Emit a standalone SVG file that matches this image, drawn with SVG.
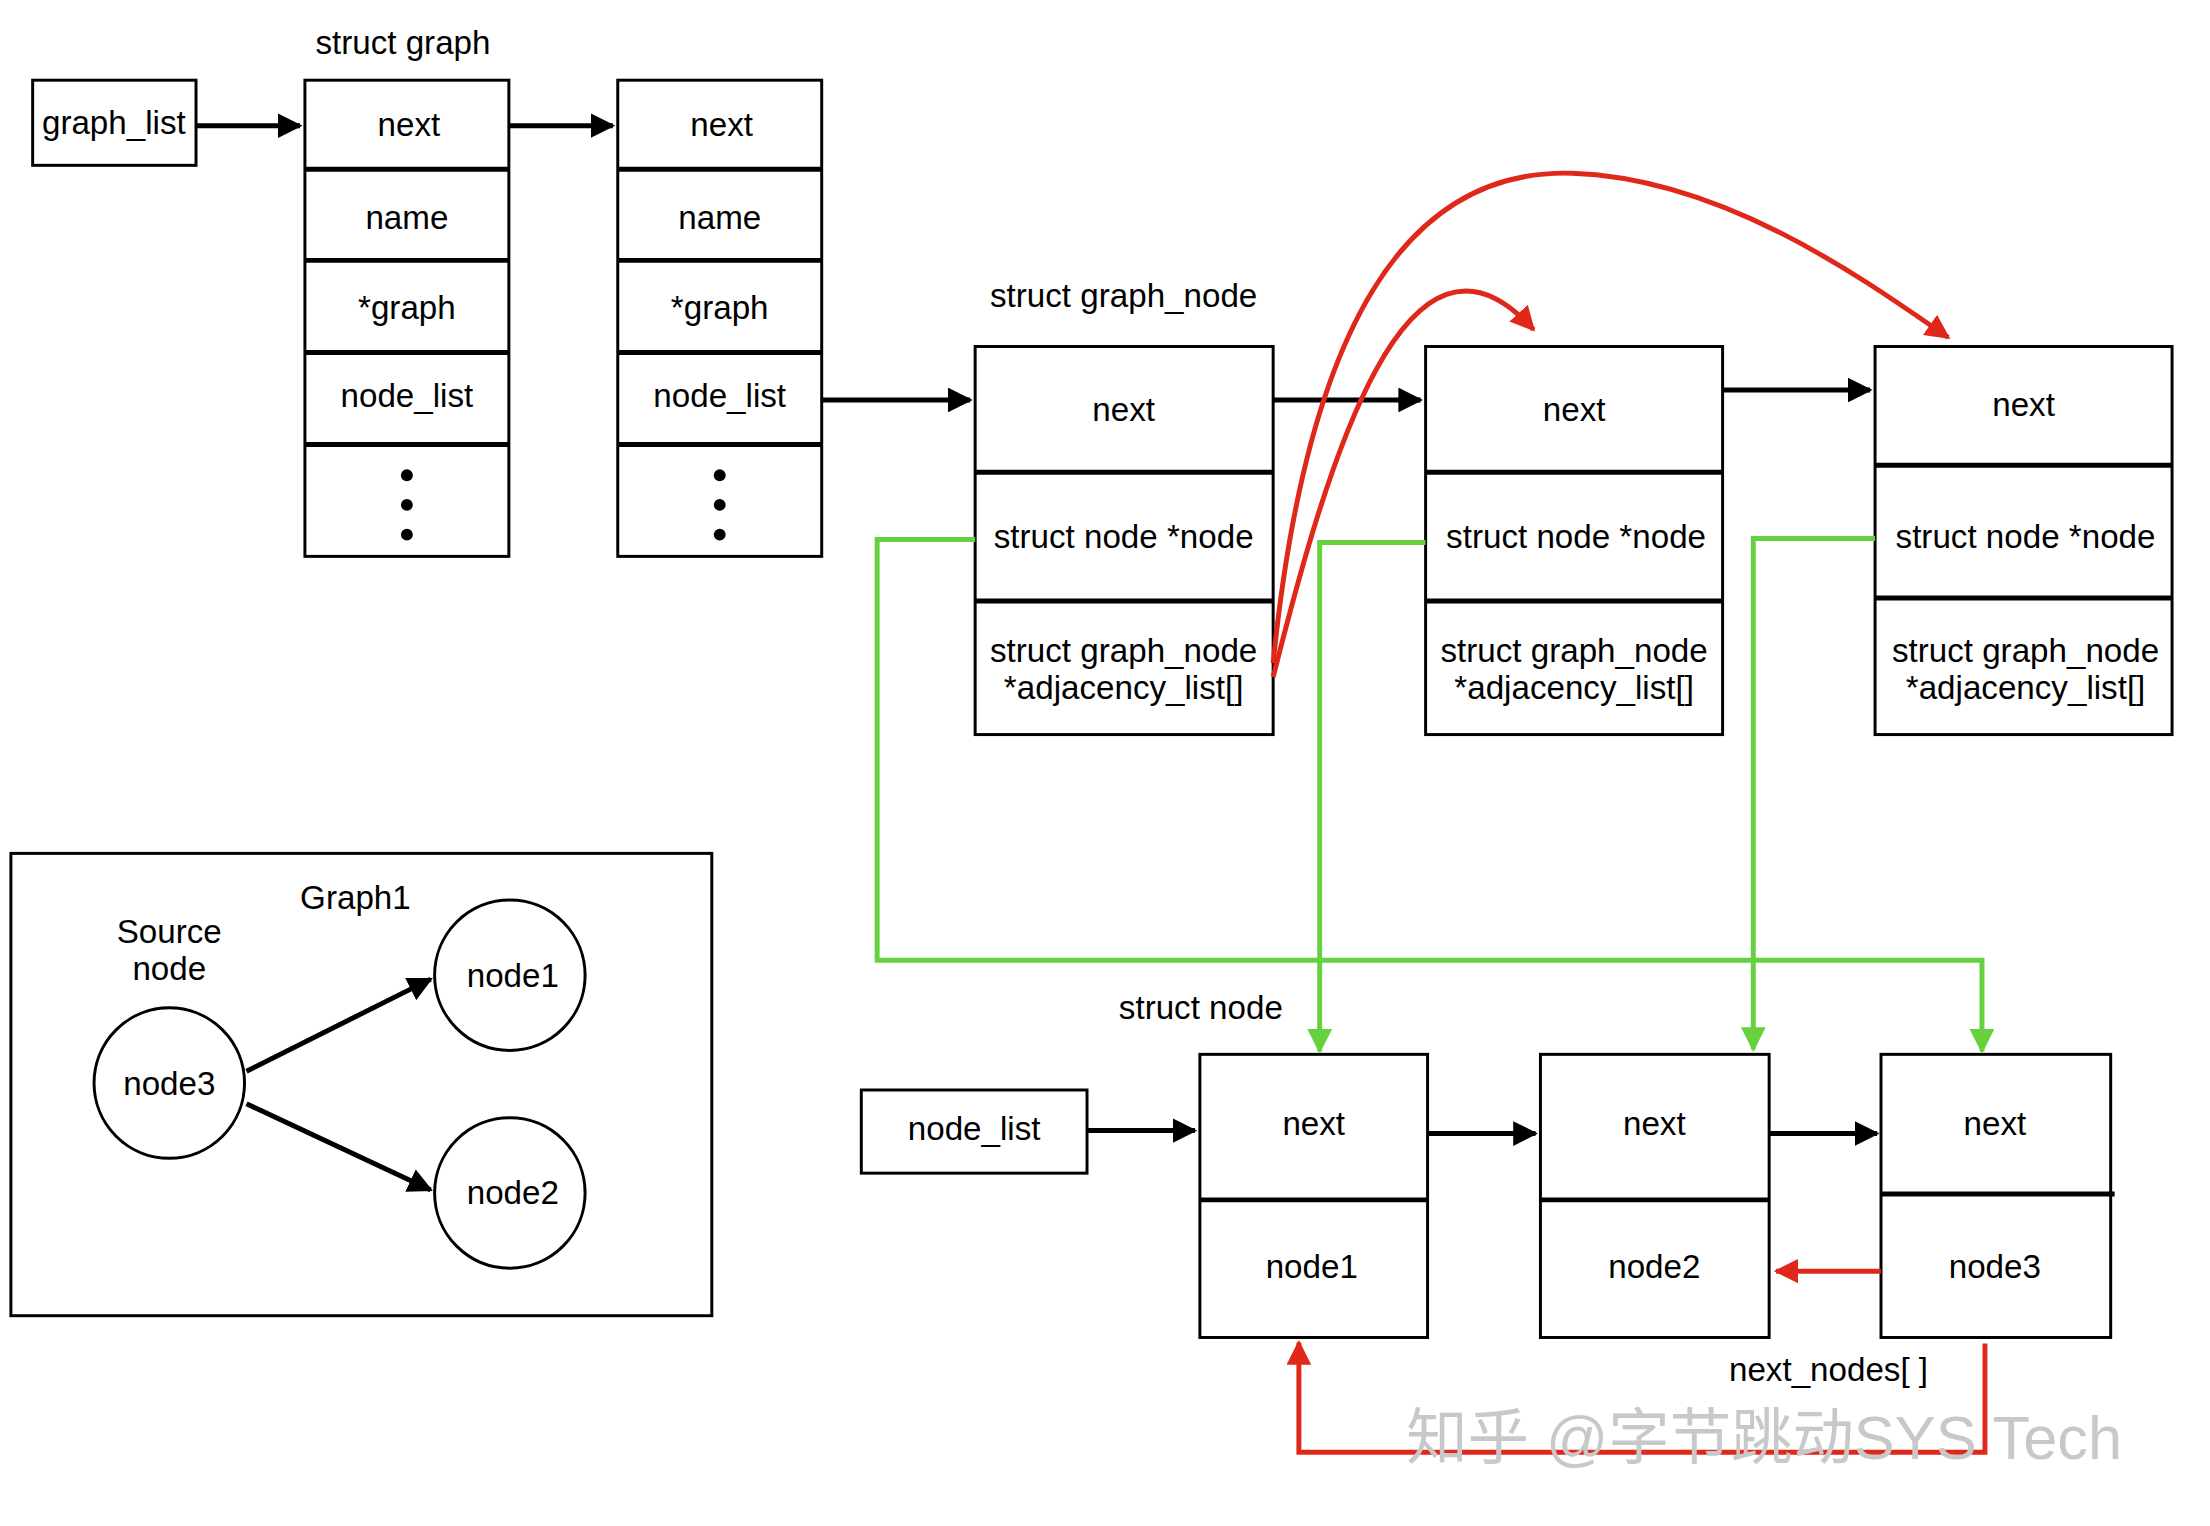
<svg xmlns="http://www.w3.org/2000/svg" width="2210" height="1526" viewBox="0 0 2210 1526">
<defs>
<style>
text{font-family:"Liberation Sans",Arial,sans-serif;font-size:33.5px;fill:#000;text-anchor:middle;dominant-baseline:central}
.b{fill:#fff;stroke:#000;stroke-width:3}
.d{stroke:#000;stroke-width:5}
.k{fill:none;stroke:#000;stroke-width:5}
.g{fill:none;stroke:#66d13f;stroke-width:5}
.r{fill:none;stroke:#e0281a;stroke-width:5}
</style>
<marker id="ak" viewBox="0 0 10 10" refX="9" refY="5" markerWidth="5" markerHeight="5" orient="auto"><path d="M0,0L10,5L0,10z" fill="#000"/></marker>
<marker id="ag" viewBox="0 0 10 10" refX="9" refY="5" markerWidth="5" markerHeight="5" orient="auto"><path d="M0,0L10,5L0,10z" fill="#66d13f"/></marker>
<marker id="ar" viewBox="0 0 10 10" refX="9" refY="5" markerWidth="5" markerHeight="5" orient="auto"><path d="M0,0L10,5L0,10z" fill="#e0281a"/></marker>
</defs>
<rect width="2210" height="1526" fill="#fff"/>
<g transform="scale(0.99)">
<text x="407" y="43">struct graph</text>
<text x="1135" y="298">struct graph_node</text>
<text x="1213" y="1018">struct node</text>
<text x="1847" y="1383">next_nodes[ ]</text>
<g id="graph_list"><rect class="b" x="33" y="81" width="165" height="86"/><text x="115" y="124">graph_list</text></g>
<g id="graph1_struct"><rect class="b" x="308" y="81" width="206" height="481"/>
<line class="d" x1="308" y1="171" x2="514" y2="171"/><line class="d" x1="308" y1="263" x2="514" y2="263"/><line class="d" x1="308" y1="356" x2="514" y2="356"/><line class="d" x1="308" y1="449" x2="514" y2="449"/>
<text x="413" y="126">next</text><text x="411" y="220">name</text><text x="411" y="311">*graph</text><text x="411" y="400">node_list</text>
<circle cx="411" cy="480" r="6"/><circle cx="411" cy="510" r="6"/><circle cx="411" cy="540" r="6"/></g>
<g id="graph2_struct"><rect class="b" x="624" y="81" width="206" height="481"/>
<line class="d" x1="624" y1="171" x2="830" y2="171"/><line class="d" x1="624" y1="263" x2="830" y2="263"/><line class="d" x1="624" y1="356" x2="830" y2="356"/><line class="d" x1="624" y1="449" x2="830" y2="449"/>
<text x="729" y="126">next</text><text x="727" y="220">name</text><text x="727" y="311">*graph</text><text x="727" y="400">node_list</text>
<circle cx="727" cy="480" r="6"/><circle cx="727" cy="510" r="6"/><circle cx="727" cy="540" r="6"/></g>
<g id="gn1"><rect class="b" x="985" y="350" width="301" height="392"/><line class="d" x1="985" y1="477" x2="1286" y2="477"/><line class="d" x1="985" y1="607" x2="1286" y2="607"/>
<text x="1135" y="414">next</text><text x="1135" y="542">struct node *node</text><text x="1135" y="657">struct graph_node</text><text x="1135" y="694">*adjacency_list[]</text></g>
<g id="gn2"><rect class="b" x="1440" y="350" width="300" height="392"/><line class="d" x1="1440" y1="477" x2="1740" y2="477"/><line class="d" x1="1440" y1="607" x2="1740" y2="607"/>
<text x="1590" y="414">next</text><text x="1592" y="542">struct node *node</text><text x="1590" y="657">struct graph_node</text><text x="1590" y="694">*adjacency_list[]</text></g>
<g id="gn3"><rect class="b" x="1894" y="350" width="300" height="392"/><line class="d" x1="1894" y1="470" x2="2194" y2="470"/><line class="d" x1="1894" y1="604" x2="2194" y2="604"/>
<text x="2044" y="409">next</text><text x="2046" y="542">struct node *node</text><text x="2046" y="657">struct graph_node</text><text x="2046" y="694">*adjacency_list[]</text></g>
<g id="graph1"><rect class="b" x="11" y="862" width="708" height="467"/>
<text x="359" y="907">Graph1</text><text x="171" y="941">Source</text><text x="171" y="978">node</text>
<circle class="b" cx="171" cy="1094" r="76"/><text x="171" y="1094">node3</text>
<circle class="b" cx="515" cy="985" r="76"/><text x="518" y="985">node1</text>
<circle class="b" cx="515" cy="1205" r="76"/><text x="518" y="1205">node2</text></g>
<g id="node_list"><rect class="b" x="870" y="1101" width="228" height="84"/><text x="984" y="1140">node_list</text></g>
<g id="n1"><rect class="b" x="1212" y="1065" width="230" height="286"/><line class="d" x1="1212" y1="1212" x2="1442" y2="1212"/><text x="1327" y="1135">next</text><text x="1325" y="1279">node1</text></g>
<g id="n2"><rect class="b" x="1556" y="1065" width="231" height="286"/><line class="d" x1="1556" y1="1212" x2="1787" y2="1212"/><text x="1671" y="1135">next</text><text x="1671" y="1279">node2</text></g>
<g id="n3"><rect class="b" x="1900" y="1065" width="232" height="286"/><line class="d" x1="1900" y1="1206" x2="2136" y2="1206"/><text x="2015" y="1135">next</text><text x="2015" y="1279">node3</text></g>
<g id="connectors">
<line class="k" x1="198" y1="127" x2="303" y2="127" marker-end="url(#ak)"/>
<line class="k" x1="514" y1="127" x2="619" y2="127" marker-end="url(#ak)"/>
<line class="k" x1="830" y1="404" x2="980" y2="404" marker-end="url(#ak)"/>
<line class="k" x1="1286" y1="404" x2="1435" y2="404" marker-end="url(#ak)"/>
<line class="k" x1="1740" y1="394" x2="1889" y2="394" marker-end="url(#ak)"/>
<line class="k" x1="1098" y1="1142" x2="1207" y2="1142" marker-end="url(#ak)"/>
<line class="k" x1="1442" y1="1145" x2="1551" y2="1145" marker-end="url(#ak)"/>
<line class="k" x1="1787" y1="1145" x2="1896" y2="1145" marker-end="url(#ak)"/>
<line class="k" x1="249" y1="1082" x2="435" y2="989" marker-end="url(#ak)"/>
<line class="k" x1="249" y1="1115" x2="435" y2="1202" marker-end="url(#ak)"/>
<path class="g" d="M985,545H886V970H2002V1062" marker-end="url(#ag)"/>
<path class="g" d="M1440,548H1333V1062" marker-end="url(#ag)"/>
<path class="g" d="M1894,544H1771V1060" marker-end="url(#ag)"/>
<path class="r" d="M1286,684C1340,470 1420,190 1549,333" marker-end="url(#ar)"/>
<path class="r" d="M1286,670C1320,330 1420,170 1588,175C1740,180 1880,280 1968,341" marker-end="url(#ar)"/>
<line class="r" x1="1900" y1="1284" x2="1794" y2="1284" marker-end="url(#ar)"/>
<path class="r" d="M2005,1357V1467H1312V1356" marker-end="url(#ar)"/>
</g>
<text x="1782" y="1452" style="font-size:62px;fill:#c8c8c8;font-family:'Liberation Sans','Noto Sans CJK SC',sans-serif">知乎 @字节跳动SYS Tech</text>
</g>
</svg>
